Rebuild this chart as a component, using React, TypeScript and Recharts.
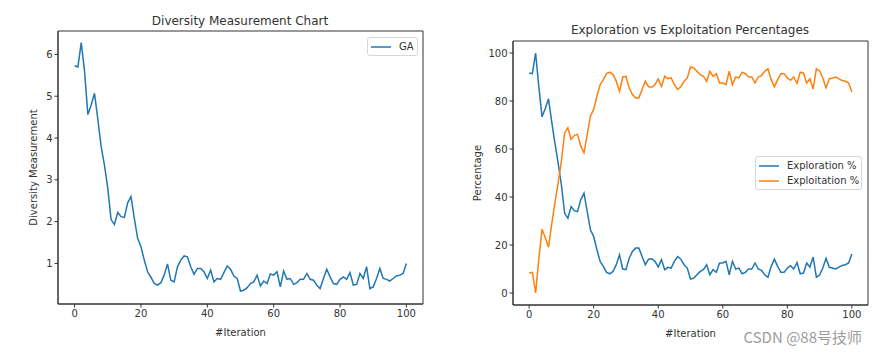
import { LineChart, Line, XAxis, YAxis, Legend, ReferenceArea } from 'recharts';

const BLUE = '#1f77b4';
const ORANGE = '#ff7f0e';
const INK = '#333333';
const FONT = '"DejaVu Sans", sans-serif';

const X_DOMAIN = [-5, 105];
const X_TICKS = [0, 20, 40, 60, 80, 100];
const DIVERSITY_DOMAIN = [0.03, 6.56];
const DIVERSITY_TICKS = [1, 2, 3, 4, 5, 6];
const PERCENT_DOMAIN = [-5, 105];
const PERCENT_TICKS = [0, 20, 40, 60, 80, 100];

// GA diversity per iteration (0..100)
const GA_DIVERSITY = [
  5.73, 5.7, 6.28, 5.6, 4.56, 4.79, 5.07, 4.45, 3.8, 3.35,
  2.8, 2.05, 1.93, 2.22, 2.12, 2.1, 2.45, 2.6, 2.08, 1.6,
  1.4, 1.08, 0.8, 0.67, 0.52, 0.48, 0.54, 0.72, 0.99, 0.6,
  0.56, 0.92, 1.08, 1.18, 1.16, 0.92, 0.74, 0.88, 0.88, 0.8,
  0.64, 0.84, 0.56, 0.64, 0.62, 0.78, 0.94, 0.86, 0.7, 0.64,
  0.34, 0.36, 0.42, 0.52, 0.56, 0.72, 0.46, 0.58, 0.52, 0.75,
  0.72, 0.8, 0.44, 0.82, 0.62, 0.64, 0.5, 0.54, 0.62, 0.62,
  0.76, 0.62, 0.6, 0.48, 0.4, 0.64, 0.86, 0.68, 0.52, 0.5,
  0.62, 0.68, 0.62, 0.78, 0.48, 0.5, 0.76, 0.64, 0.92, 0.4,
  0.44, 0.64, 0.88, 0.64, 0.62, 0.58, 0.64, 0.7, 0.72, 0.76,
  1.0,
];

const EXPLORATION = [
  91.7, 91.4, 100, 86, 73.4, 76.9, 80.9, 71.3, 62.3, 54,
  45, 33.2, 31.2, 36, 34.3, 33.9, 38.8, 41.6, 33.9, 26.3,
  23.5, 18, 13.2, 11.1, 8.6, 8, 9, 11.8, 15.9, 10,
  9.7, 14.5, 17.3, 18.7, 18.7, 15.2, 11.8, 14.1, 14.3, 13.2,
  10.8, 13.9, 9.7, 10.7, 10.4, 13.2, 15.2, 14.1, 11.8, 10.4,
  5.8, 6.2, 7.6, 9, 9.7, 11.8, 7.6, 9.7, 8.6, 12.5,
  12.5, 13.2, 7.6, 13.2, 10, 10.4, 8, 8.6, 10, 10,
  12.5, 10, 9.4, 7.6, 6.6, 11.1, 14.1, 11.1, 8.6, 8.6,
  10.4, 11.4, 10, 12.7, 8, 8.3, 12.5, 10.8, 15, 6.6,
  7.5, 10.4, 14.5, 10.7, 10.4, 10, 10.8, 11.5, 11.8, 12.5,
  16.3,
];

const EXPLOITATION = [
  8.3, 8.6, 0, 14, 26.6, 23.1, 19.1, 28.7, 37.7, 46,
  55, 66.8, 68.8, 64, 65.7, 66.1, 61.2, 58.4, 66.1, 73.7,
  76.5, 82, 86.8, 88.9, 91.4, 92, 91, 88.2, 84.1, 90,
  90.3, 85.5, 82.7, 81.3, 81.3, 84.8, 88.2, 85.9, 85.7, 86.8,
  89.2, 86.1, 90.3, 89.3, 89.6, 86.8, 84.8, 85.9, 88.2, 89.6,
  94.2, 93.8, 92.4, 91, 90.3, 88.2, 92.4, 90.3, 91.4, 87.5,
  87.5, 86.8, 92.4, 86.8, 90, 89.6, 92, 91.4, 90, 90,
  87.5, 90, 90.6, 92.4, 93.4, 88.9, 85.9, 88.9, 91.4, 91.4,
  89.6, 88.6, 90, 87.3, 92, 91.7, 87.5, 89.2, 85, 93.4,
  92.5, 89.6, 85.5, 89.3, 89.6, 90, 89.2, 88.5, 88.2, 87.5,
  83.7,
];

const SERIES_ORDER = ['GA', 'Exploration %', 'Exploitation %'];

const diversityData = GA_DIVERSITY.map((v, i) => ({ iter: i, ga: v }));
const percentData = EXPLORATION.map((v, i) => ({
  iter: i,
  exploration: v,
  exploitation: EXPLOITATION[i],
}));

const tickStyle = { fontSize: 10, fill: INK, fontFamily: FONT };
const lineStyle = { stroke: INK, strokeWidth: 1 };

function LegendBox({ payload }: any) {
  const items = [...(payload || [])].sort(
    (a: any, b: any) => SERIES_ORDER.indexOf(a.value) - SERIES_ORDER.indexOf(b.value)
  );
  return (
    <div
      style={{
        border: '1px solid #d6d6d6',
        borderRadius: 3,
        background: '#fff',
        padding: '1px 4px 1px 3px',
        boxSizing: 'border-box',
        textAlign: 'left',
      }}
    >
      {items.map((e: any) => (
        <div key={e.value} style={{ display: 'flex', alignItems: 'center', height: 15 }}>
          <svg width={20} height={4} style={{ display: 'block', flexShrink: 0 }}>
            <line x1={0} y1={2} x2={20} y2={2} stroke={e.color} strokeWidth={1.5} />
          </svg>
          <span style={{ marginLeft: 8, fontSize: 10, color: INK, fontFamily: FONT, whiteSpace: 'nowrap' }}>
            {e.value}
          </span>
        </div>
      ))}
    </div>
  );
}

function Title({ text, x, y }: { text: string; x: number; y: number }) {
  return (
    <div
      style={{
        position: 'absolute',
        left: x - 200,
        width: 400,
        top: y - 8,
        textAlign: 'center',
        fontSize: 12,
        lineHeight: '16px',
        color: INK,
        fontFamily: FONT,
      }}
    >
      {text}
    </div>
  );
}

export default function App() {
  return (
    <div
      style={{
        position: 'absolute',
        left: 0,
        top: 0,
        width: 877,
        height: 355,
        background: '#fff',
        overflow: 'hidden',
      }}
    >
      {/* Left: diversity */}
      <div style={{ position: 'absolute', left: 0, top: 0 }}>
        <LineChart
          width={440}
          height={355}
          data={diversityData}
          margin={{ top: 31, right: 17, left: 18, bottom: 15 }}
        >
          <XAxis
            dataKey="iter"
            type="number"
            domain={X_DOMAIN}
            ticks={X_TICKS}
            tick={tickStyle}
            tickSize={3.5}
            tickMargin={2}
            axisLine={lineStyle}
            tickLine={lineStyle}
            height={36}
            label={{ value: '#Iteration', position: 'insideBottom', offset: 4, style: { ...tickStyle } }}
          />
          <YAxis
            type="number"
            domain={DIVERSITY_DOMAIN}
            ticks={DIVERSITY_TICKS}
            allowDataOverflow
            tick={tickStyle}
            tickSize={3.5}
            tickMargin={2}
            axisLine={lineStyle}
            tickLine={lineStyle}
            width={40}
            label={{
              value: 'Diversity Measurement',
              angle: -90,
              position: 'insideLeft',
              offset: 15,
              style: { ...tickStyle, textAnchor: 'middle' },
            }}
          />
          {/* plot frame */}
          <ReferenceArea
            x1={X_DOMAIN[0]}
            x2={X_DOMAIN[1]}
            y1={DIVERSITY_DOMAIN[0]}
            y2={DIVERSITY_DOMAIN[1]}
            fill="none"
            fillOpacity={0}
            stroke={INK}
            strokeWidth={1}
            ifOverflow="visible"
          />
          <Legend
            layout="vertical"
            align="center"
            verticalAlign="middle"
            content={<LegendBox />}
            wrapperStyle={{ top: 37, left: 367, width: 51 }}
          />
          <Line
            dataKey="ga"
            name="GA"
            stroke={BLUE}
            strokeWidth={1.5}
            dot={false}
            isAnimationActive={false}
          />
        </LineChart>
      </div>

      {/* Right: exploration vs exploitation */}
      <div style={{ position: 'absolute', left: 440, top: 0 }}>
        <LineChart
          width={437}
          height={355}
          data={percentData}
          margin={{ top: 41, right: 9, left: 33, bottom: 14 }}
        >
          <XAxis
            dataKey="iter"
            type="number"
            domain={X_DOMAIN}
            ticks={X_TICKS}
            tick={tickStyle}
            tickSize={3.5}
            tickMargin={2}
            axisLine={lineStyle}
            tickLine={lineStyle}
            height={36}
            label={{ value: '#Iteration', position: 'insideBottom', offset: 4, style: { ...tickStyle } }}
          />
          <YAxis
            type="number"
            domain={PERCENT_DOMAIN}
            ticks={PERCENT_TICKS}
            allowDataOverflow
            tick={tickStyle}
            tickSize={3.5}
            tickMargin={2}
            axisLine={lineStyle}
            tickLine={lineStyle}
            width={40}
            label={{
              value: 'Percentage',
              angle: -90,
              position: 'insideLeft',
              offset: 4,
              style: { ...tickStyle, textAnchor: 'middle' },
            }}
          />
          <ReferenceArea
            x1={X_DOMAIN[0]}
            x2={X_DOMAIN[1]}
            y1={PERCENT_DOMAIN[0]}
            y2={PERCENT_DOMAIN[1]}
            fill="none"
            fillOpacity={0}
            stroke={INK}
            strokeWidth={1}
            ifOverflow="visible"
          />
          <Legend
            layout="vertical"
            align="center"
            verticalAlign="middle"
            content={<LegendBox />}
            wrapperStyle={{ top: 156, left: 315, width: 107 }}
          />
          <Line
            dataKey="exploration"
            name="Exploration %"
            stroke={BLUE}
            strokeWidth={1.5}
            dot={false}
            isAnimationActive={false}
          />
          <Line
            dataKey="exploitation"
            name="Exploitation %"
            stroke={ORANGE}
            strokeWidth={1.5}
            dot={false}
            isAnimationActive={false}
          />
        </LineChart>
      </div>

      <Title text="Diversity Measurement Chart" x={240} y={21} />
      <Title text="Exploration vs Exploitation Percentages" x={690} y={30} />

      <div
        style={{
          position: 'absolute',
          right: 15,
          top: 328,
          fontSize: 15,
          lineHeight: '18px',
          color: '#9c9c9c',
          fontFamily: '"Noto Sans CJK SC", "Noto Sans", sans-serif',
        }}
      >
        CSDN @88号技师
      </div>
    </div>
  );
}
